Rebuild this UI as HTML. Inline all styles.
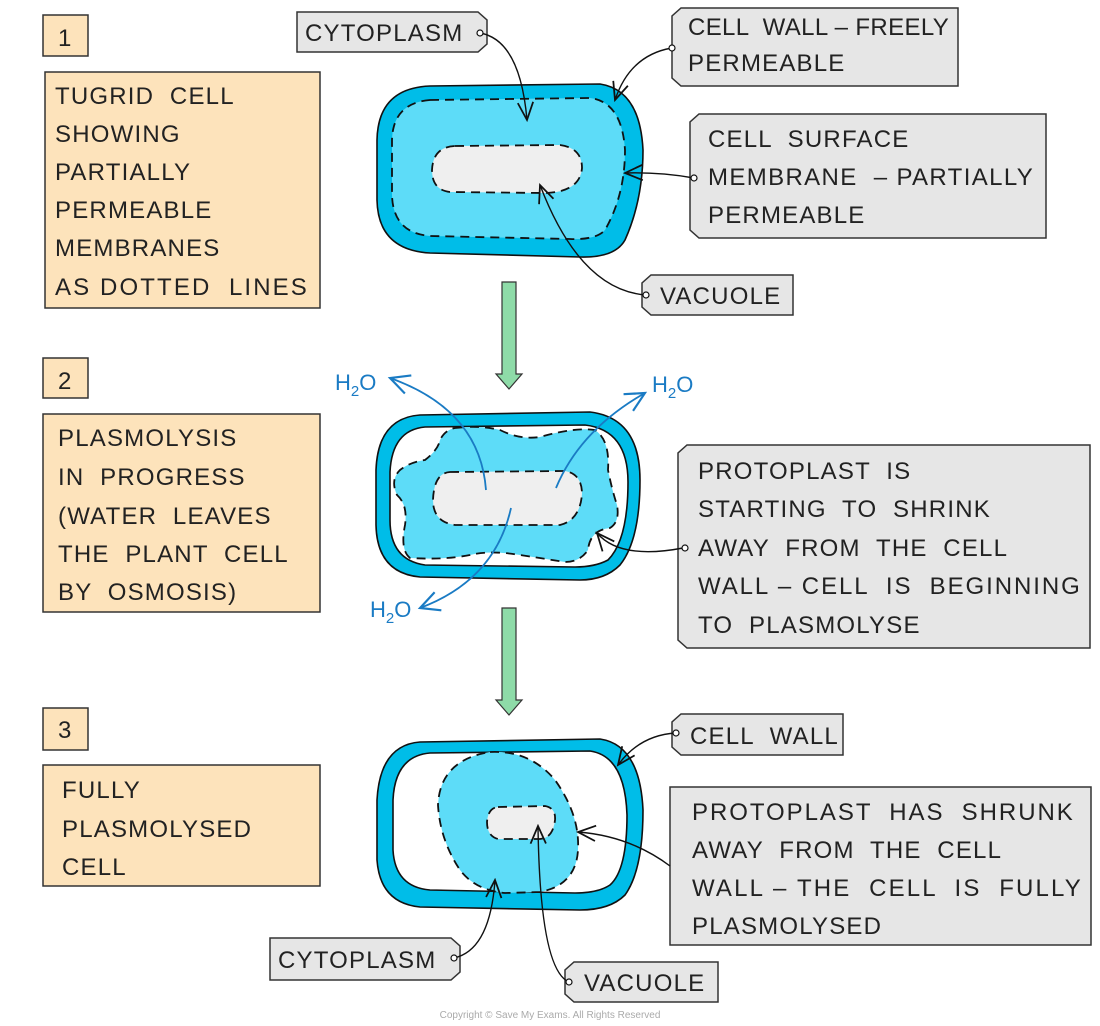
<!DOCTYPE html>
<html><head><meta charset="utf-8"><style>
body{margin:0;background:#fff}
svg{display:block}
text{font-family:"Liberation Sans",sans-serif;font-size:24px;letter-spacing:1.2px;fill:#222;white-space:pre}
.h{fill:#1a7bc4;font-size:22px;letter-spacing:0}
</style></head><body>
<svg width="1100" height="1026" viewBox="0 0 1100 1026" xmlns="http://www.w3.org/2000/svg">
<defs>
<marker id="ah" viewBox="0 0 20 20" refX="18" refY="10" markerWidth="22" markerHeight="22" orient="auto" markerUnits="userSpaceOnUse"><path d="M2 3 L18 10 L2 17" fill="none" stroke="#111" stroke-width="1.6"/></marker>
<marker id="bh" viewBox="0 0 20 20" refX="18" refY="10" markerWidth="24" markerHeight="24" orient="auto" markerUnits="userSpaceOnUse"><path d="M2 2 L18 10 L2 18" fill="none" stroke="#1a7bc4" stroke-width="1.8"/></marker>
</defs>
<g fill="#fde3bb" stroke="#333" stroke-width="1.5">
<rect x="43" y="15" width="45" height="41"/><rect x="45" y="72" width="275" height="236"/>
<rect x="43" y="358" width="45" height="40"/><rect x="43" y="414" width="277" height="198"/>
<rect x="43" y="708" width="45" height="42"/><rect x="43" y="765" width="277" height="121"/>
</g>
<text x="58" y="46">1</text><text x="58" y="389">2</text><text x="58" y="738">3</text>
<text x="55" y="104">TUGRID  CELL</text><text x="55" y="142">SHOWING</text><text x="55" y="180">PARTIALLY</text><text x="55" y="218">PERMEABLE</text><text x="55" y="256">MEMBRANES</text><text x="55" y="295" textLength="253">AS DOTTED  LINES</text>
<text x="58" y="446">PLASMOLYSIS</text><text x="58" y="485">IN  PROGRESS</text><text x="58" y="524">(WATER  LEAVES</text><text x="58" y="562">THE  PLANT  CELL</text><text x="58" y="600">BY  OSMOSIS)</text>
<text x="62" y="798">FULLY</text><text x="62" y="837">PLASMOLYSED</text><text x="62" y="875">CELL</text>
<g fill="#e6e6e6" stroke="#333" stroke-width="1.5">
<path d="M297 12 H478 L487 20 V44 L478 52 H297 Z"/>
<path d="M681 8 H958 V86 H681 L672 78 V16 Z"/>
<path d="M699 114 H1046 V238 H699 L690 230 V122 Z"/>
<path d="M651 275 H793 V315 H651 L642 307 V283 Z"/>
<path d="M687 445 H1090 V648 H687 L678 640 V453 Z"/>
<path d="M681 714 H843 V755 H681 L672 747 V722 Z"/>
<path d="M670 787 H1091 V945 H670 Z"/>
<path d="M270 938 H451 L460 946 V972 L451 980 H270 Z"/>
<path d="M574 962 H718 V1002 H574 L565 994 V970 Z"/>
</g>
<text x="305" y="41">CYTOPLASM</text>
<text x="688" y="35" textLength="262">CELL  WALL – FREELY</text><text x="688" y="71">PERMEABLE</text>
<text x="708" y="147">CELL  SURFACE</text><text x="708" y="185" textLength="326">MEMBRANE  – PARTIALLY</text><text x="708" y="223">PERMEABLE</text>
<text x="660" y="304">VACUOLE</text>
<text x="698" y="479">PROTOPLAST  IS</text><text x="698" y="517">STARTING  TO  SHRINK</text><text x="698" y="556">AWAY  FROM  THE  CELL</text><text x="698" y="594" textLength="383">WALL – CELL  IS  BEGINNING</text><text x="698" y="633">TO  PLASMOLYSE</text>
<text x="690" y="744">CELL  WALL</text>
<text x="692" y="820" textLength="382">PROTOPLAST  HAS  SHRUNK</text><text x="692" y="858">AWAY  FROM  THE  CELL</text><text x="692" y="896" textLength="390">WALL – THE  CELL  IS  FULLY</text><text x="692" y="934">PLASMOLYSED</text>
<text x="278" y="968">CYTOPLASM</text>
<text x="584" y="991">VACUOLE</text>
<path d="M502 282 H516 V374 H522 L509 389 L496 374 H502 Z" fill="#8edba8" stroke="#333" stroke-width="1.2"/>
<path d="M502 608 H516 V700 H522 L509 715 L496 700 H502 Z" fill="#8edba8" stroke="#333" stroke-width="1.2"/>
<path d="M430 86 L600 84 Q640 90 643 150 Q643 200 625 240 Q615 258 580 257 L430 253 Q378 250 377 200 L377 140 Q378 88 430 86 Z" fill="#00bde8" stroke="#111" stroke-width="1.6"/>
<path d="M430 100 L590 98 Q622 102 625 150 Q625 195 605 230 Q596 240 570 239 L430 236 Q393 233 392 195 L392 140 Q393 103 430 100 Z" fill="#5ddcf8" stroke="#111" stroke-width="1.8" stroke-dasharray="9,6"/>
<path d="M455 146 L560 145 Q582 148 582 168 Q580 192 545 193 L450 192 Q432 190 432 170 Q433 147 455 146 Z" fill="#efefef" stroke="#111" stroke-width="1.8" stroke-dasharray="9,6"/>
<path d="M420 415 L590 412 Q640 418 640 480 Q640 540 620 565 Q605 580 580 580 L420 577 Q377 573 376 525 L376 470 Q378 418 420 415 Z" fill="#00bde8" stroke="#111" stroke-width="1.6"/>
<path d="M425 427 L585 425 Q628 430 628 482 Q628 540 608 560 Q595 567 575 567 L425 565 Q390 560 390 520 L390 472 Q392 430 425 427 Z" fill="#fff" stroke="#111" stroke-width="1.6"/>
<path d="M455 428 Q480 425 500 430 Q520 440 540 437 Q575 427 595 430 Q610 440 608 470 Q612 490 617 505 Q620 522 610 528 Q590 530 588 550 Q580 562 565 562 Q540 558 520 555 Q490 550 470 555 Q445 560 410 558 Q400 550 405 525 Q408 505 397 495 Q390 480 400 470 Q410 462 425 460 Q438 450 440 440 Q445 430 455 428 Z" fill="#5ddcf8" stroke="#111" stroke-width="1.8" stroke-dasharray="9,6"/>
<path d="M450 472 L565 471 Q582 474 582 494 Q580 520 560 525 L455 525 Q433 522 433 500 Q434 473 450 472 Z" fill="#efefef" stroke="#111" stroke-width="1.8" stroke-dasharray="9,6"/>
<path d="M420 742 L600 739 Q640 745 643 810 Q643 870 625 895 Q610 910 580 910 L420 907 Q380 903 377 860 L377 800 Q380 745 420 742 Z" fill="#00bde8" stroke="#111" stroke-width="1.6"/>
<path d="M430 753 L590 751 Q625 756 627 815 Q627 870 610 885 Q598 893 575 893 L430 890 Q395 887 393 850 L393 800 Q395 756 430 753 Z" fill="#fff" stroke="#111" stroke-width="1.6"/>
<path d="M490 752 Q530 750 555 780 Q580 815 578 850 Q576 885 540 892 L505 893 Q475 890 460 870 Q440 840 438 805 Q440 760 490 752 Z" fill="#5ddcf8" stroke="#111" stroke-width="1.8" stroke-dasharray="9,6"/>
<path d="M498 807 L545 806 Q556 808 555 820 Q553 838 540 839 L498 839 Q487 836 487 822 Q488 808 498 807 Z" fill="#efefef" stroke="#111" stroke-width="1.8" stroke-dasharray="9,6"/>
<g fill="none" stroke="#111" stroke-width="1.4">
<path d="M480 33 Q520 40 527 120" marker-end="url(#ah)"/>
<path d="M672 48 Q630 55 615 100" marker-end="url(#ah)"/>
<path d="M694 178 Q660 172 625 173" marker-end="url(#ah)"/>
<path d="M646 295 Q580 290 540 185" marker-end="url(#ah)"/>
<path d="M683 548 Q620 560 597 533" marker-end="url(#ah)"/>
<path d="M676 733 Q640 735 618 765" marker-end="url(#ah)"/>
<path d="M670 866 Q630 836 578 832" marker-end="url(#ah)"/>
<path d="M454 958 Q490 950 495 880" marker-end="url(#ah)"/>
<path d="M569 982 Q540 970 538 826" marker-end="url(#ah)"/>
</g>
<g fill="#fff" stroke="#111" stroke-width="1.2">
<circle cx="480" cy="33" r="3"/><circle cx="672" cy="48" r="3"/><circle cx="694" cy="178" r="3"/><circle cx="646" cy="295" r="3"/><circle cx="685" cy="548" r="3"/><circle cx="676" cy="733" r="3"/><circle cx="454" cy="958" r="3"/><circle cx="569" cy="982" r="3"/>
</g>
<g fill="none" stroke="#1a7bc4" stroke-width="1.8">
<path d="M486 490 Q480 410 390 378" marker-end="url(#bh)"/>
<path d="M556 488 Q580 430 645 393" marker-end="url(#bh)"/>
<path d="M511 508 Q495 580 420 608" marker-end="url(#bh)"/>
</g>
<text class="h" x="335" y="390">H<tspan font-size="15" dy="6">2</tspan><tspan dy="-6">O</tspan></text>
<text class="h" x="652" y="392">H<tspan font-size="15" dy="6">2</tspan><tspan dy="-6">O</tspan></text>
<text class="h" x="370" y="617">H<tspan font-size="15" dy="6">2</tspan><tspan dy="-6">O</tspan></text>
<text x="550" y="1018" text-anchor="middle" style="font-size:10px;fill:#aaa;letter-spacing:0">Copyright © Save My Exams. All Rights Reserved</text>
</svg>
</body></html>
